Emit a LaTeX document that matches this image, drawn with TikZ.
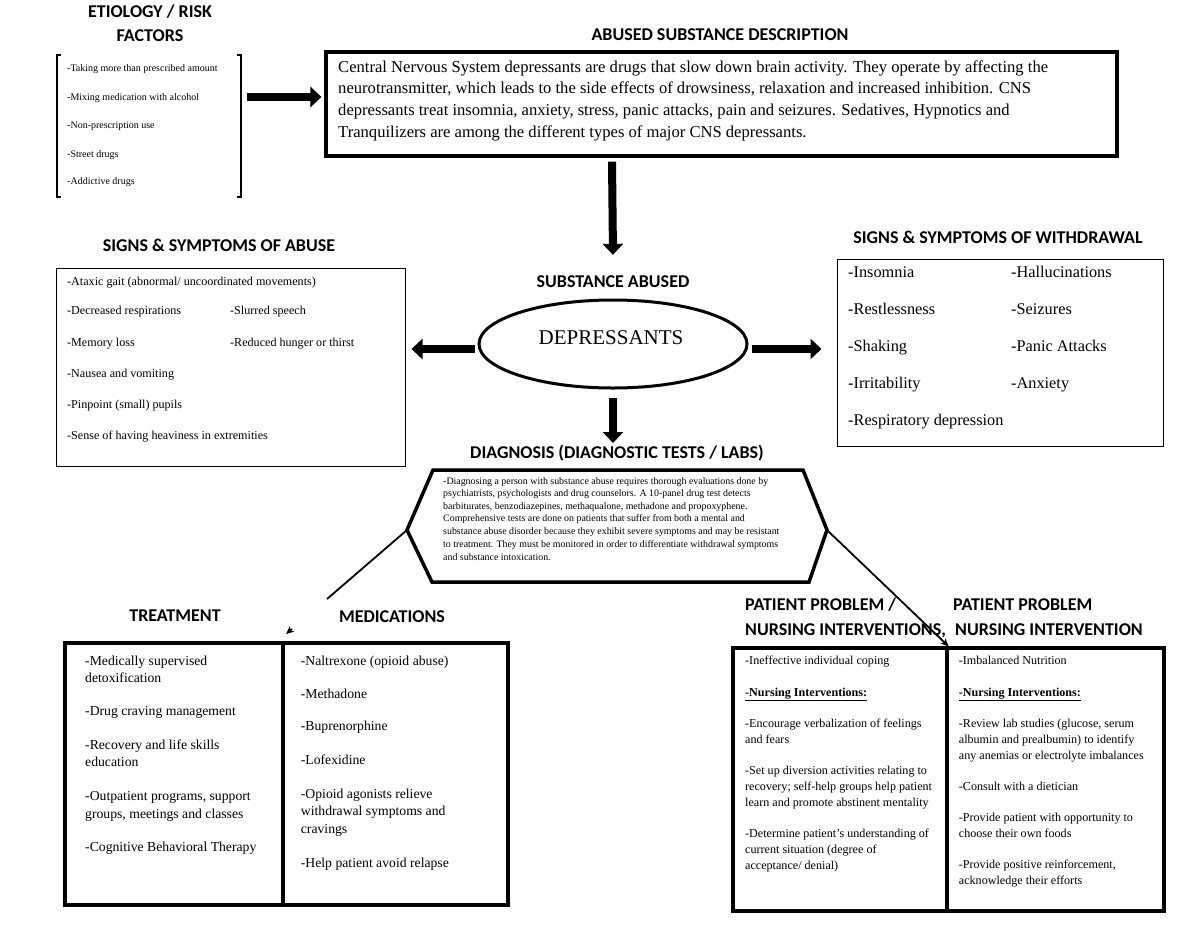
\documentclass[tikz,border=0pt]{standalone}
\usepackage{fontspec}
\setmainfont{Liberation Serif}
\newfontfamily\hdfont{Carlito}
\usetikzlibrary{arrows.meta,shapes.geometric}
\begin{document}
\begin{tikzpicture}[x=1pt,y=-1pt,
  hd/.style={font=\hdfont\bfseries\fontsize{18}{20}\selectfont, inner sep=0pt},
  hdl/.style={hd, anchor=mid west},
  it/.style={anchor=mid west, inner sep=0pt},
  fa/.style={it, font=\fontsize{10}{11}\selectfont},
  fd/.style={it, font=\fontsize{16.6}{18}\selectfont},
  fb/.style={it, font=\fontsize{12.1}{13}\selectfont},
  fw/.style={it, font=\fontsize{16.3}{17}\selectfont},
  fg/.style={it, font=\fontsize{9.9}{11}\selectfont},
  ft/.style={it, font=\fontsize{13.7}{15}\selectfont},
  fp/.style={it, font=\fontsize{12.1}{13}\selectfont},
  thin/.style={draw, line width=1pt, inner sep=0pt},
  thick/.style={draw, line width=3.2pt, inner sep=0pt},
  blk/.style={line width=8pt, -{Triangle[length=11pt,width=20pt]}},
  diag/.style={line width=1.8pt},
  tip/.style={-{Stealth[length=8pt,width=7pt]}}
]
\useasboundingbox[fill=white] (0,0) rectangle (1200,927);

% ---------- Etiology ----------
\node[hd] (h1a) at (150,12) {ETIOLOGY / RISK};
\node[hd] (h1b) at (150,36) {FACTORS};
\node[minimum width=184pt, minimum height=142pt, inner sep=0pt] (etio) at (149,126) {};
\draw[line width=1.5pt] ([xshift=4pt]etio.north west) -- (etio.north west) -- (etio.south west) -- ([xshift=4pt]etio.south west);
\draw[line width=1.5pt] ([xshift=-4pt]etio.north east) -- (etio.north east) -- (etio.south east) -- ([xshift=-4pt]etio.south east);
\foreach \yy/\tx [count=\i] in {69/{-Taking more than prescribed amount},
  98/{-Mixing medication with alcohol}, 126/{-Non-prescription use},
  155/{-Street drugs}, 182/{-Addictive drugs}}
  \node[fa] (et\i) at (67,\yy) {\tx};

% ---------- Description ----------
\node[hd] (h2) at (720,35) {ABUSED SUBSTANCE DESCRIPTION};
\node[thick, minimum width=791pt, minimum height=104pt] (desc) at (721.5,104) {};
\foreach \yy/\tx [count=\i] in {
  70/{Central Nervous System depressants are drugs that slow down brain activity. They operate by affecting the},
  91/{neurotransmitter, which leads to the side effects of drowsiness, relaxation and increased inhibition. CNS},
  113/{depressants treat insomnia, anxiety, stress, panic attacks, pain and seizures. Sedatives, Hypnotics and},
  135/{Tranquilizers are among the different types of major CNS depressants.}}
  \node[fd] (de\i) at (338,\yy) {\tx};

\draw[blk] ([shift={(6,-29)}]etio.east) -- ([shift={(-3,-7)}]desc.west);

% ---------- Abuse ----------
\node[hd] (h3) at (219,245) {SIGNS \& SYMPTOMS OF ABUSE};
\node[thin, minimum width=349pt, minimum height=198pt] (abuse) at (230.5,367) {};
\foreach \yy/\tx [count=\i] in {283/{-Ataxic gait (abnormal/ uncoordinated movements)},
  312/{-Decreased respirations}, 344/{-Memory loss}, 375/{-Nausea and vomiting},
  406/{-Pinpoint (small) pupils}, 437/{-Sense of having heaviness in extremities}}
  \node[fb] (ab\i) at (67,\yy) {\tx};
\node[fb] (ab7) at (230,312) {-Slurred speech};
\node[fb] (ab8) at (230,344) {-Reduced hunger or thirst};

% ---------- Substance ----------
\node[hd] (sa) at (613,282) {SUBSTANCE ABUSED};
\node[draw, ellipse, line width=3pt, minimum width=268pt, minimum height=88pt, inner sep=0pt] (dep) at (613,344) {};
\node[inner sep=0pt, font=\fontsize{21}{22}\selectfont] (deptx) at (611,338) {DEPRESSANTS};

\draw[blk] ([shift={(-109.5,4)}]desc.south) -- ([shift={(0,-21)}]sa.north);

% ---------- Withdrawal ----------
\node[hd] (h4) at (998,237) {SIGNS \& SYMPTOMS OF WITHDRAWAL};
\node[thin, minimum width=326pt, minimum height=187pt] (wd) at (1000,353) {};
\foreach \yy/\tx [count=\i] in {275/{-Insomnia}, 312/{-Restlessness}, 349/{-Shaking},
  386/{-Irritability}, 423/{-Respiratory depression}}
  \node[fw] (wa\i) at (848,\yy) {\tx};
\foreach \yy/\tx [count=\i] in {275/{-Hallucinations}, 312/{-Seizures}, 349/{-Panic Attacks},
  386/{-Anxiety}}
  \node[fw] (wb\i) at (1011,\yy) {\tx};

\draw[blk] ([shift={(-3,5)}]dep.west) -- ([shift={(6,-18)}]abuse.east);
\draw[blk] ([shift={(3,5)}]dep.east) -- ([shift={(-15,-4)}]wd.west);

% ---------- Diagnosis ----------
\node[hd] (dg) at (617,453) {DIAGNOSIS (DIAGNOSTIC TESTS / LABS)};
\draw[blk] ([shift={(0,8)}]dep.south) -- ([shift={(-4,-10)}]dg.center);
\coordinate (hL) at (407,530);
\coordinate (hR) at (827,530);
\draw[line width=3.5pt, line join=miter] (433,470) -- (803,470) -- (hR) -- (809,582) -- (432,582) -- (hL) -- cycle;
\foreach \yy/\tx [count=\i] in {
  481.7/{-Diagnosing a person with substance abuse requires thorough evaluations done by},
  494.3/{psychiatrists, psychologists and drug counselors. A 10-panel drug test detects},
  506.7/{barbiturates, benzodiazepines, methaqualone, methadone and propoxyphene.},
  519.3/{Comprehensive tests are done on patients that suffer from both a mental and},
  532.3/{substance abuse disorder because they exhibit severe symptoms and may be resistant},
  544.8/{to treatment. They must be monitored in order to differentiate withdrawal symptoms},
  557.7/{and substance intoxication.}}
  \node[fg] (dx\i) at (443,\yy) {\tx};

% ---------- Treatment / Medications ----------
\node[hd] (h5) at (175,616) {TREATMENT};
\node[hd] (h6) at (392,617) {MEDICATIONS};
\node[thick, minimum width=218pt, minimum height=262pt] (trt) at (174,774) {};
\node[thick, minimum width=225pt, minimum height=262pt] (med) at (395.5,774) {};
\foreach \yy/\tx [count=\i] in {662.7/{-Medically supervised}, 680/{detoxification},
  713/{-Drug craving management}, 747/{-Recovery and life skills}, 764/{education},
  798/{-Outpatient programs, support}, 816/{groups, meetings and classes},
  849/{-Cognitive Behavioral Therapy}}
  \node[ft] (tr\i) at (85,\yy) {\tx};
\foreach \yy/\tx [count=\i] in {663/{-Naltrexone (opioid abuse)}, 696/{-Methadone},
  728/{-Buprenorphine}, 762/{-Lofexidine}, 796/{-Opioid agonists relieve},
  813/{withdrawal symptoms and}, 831/{cravings}, 865/{-Help patient avoid relapse}}
  \node[ft] (md\i) at (300.7,\yy) {\tx};

\coordinate (lend) at (327,599);
\coordinate (ltail) at (292,629);
\coordinate (ltip) at (286,634);
\draw[diag] (hL) -- (lend);
\draw[diag, tip] (ltail) -- (ltip);

% ---------- Patient problems ----------
\node[hdl] (h7) at (745,608) {PATIENT PROBLEM /};
\node[hdl] (h8) at (745,633) {NURSING INTERVENTIONS,};
\node[hdl] (h9) at (953,608) {PATIENT PROBLEM};
\node[hdl] (h10) at (955,633) {NURSING INTERVENTION};
\node[thick, minimum width=214pt, minimum height=263pt] (pp1) at (840,779.5) {};
\node[thick, minimum width=217pt, minimum height=263pt] (pp2) at (1055.5,779.5) {};
\foreach \yy/\tx [count=\i] in {662/{-Ineffective individual coping},
  694/{\underline{\textbf{-Nursing Interventions:}}},
  725/{-Encourage verbalization of feelings}, 741/{and fears},
  772/{-Set up diversion activities relating to},
  788/{recovery; self-help groups help patient},
  804/{learn and promote abstinent mentality},
  835/{-Determine patient’s understanding of},
  851/{current situation (degree of}, 867/{acceptance/ denial)}}
  \node[fp] (pa\i) at (745,\yy) {\tx};
\foreach \yy/\tx [count=\i] in {662/{-Imbalanced Nutrition},
  694/{\underline{\textbf{-Nursing Interventions:}}},
  725/{-Review lab studies (glucose, serum},
  741/{albumin and prealbumin) to identify},
  757/{any anemias or electrolyte imbalances},
  788/{-Consult with a dietician},
  819/{-Provide patient with opportunity to}, 835/{choose their own foods},
  866/{-Provide positive reinforcement,}, 882/{acknowledge their efforts}}
  \node[fp] (pb\i) at (958.7,\yy) {\tx};

\draw[diag, tip] (hR) -- (pp1.north east);
\end{tikzpicture}
\end{document}
